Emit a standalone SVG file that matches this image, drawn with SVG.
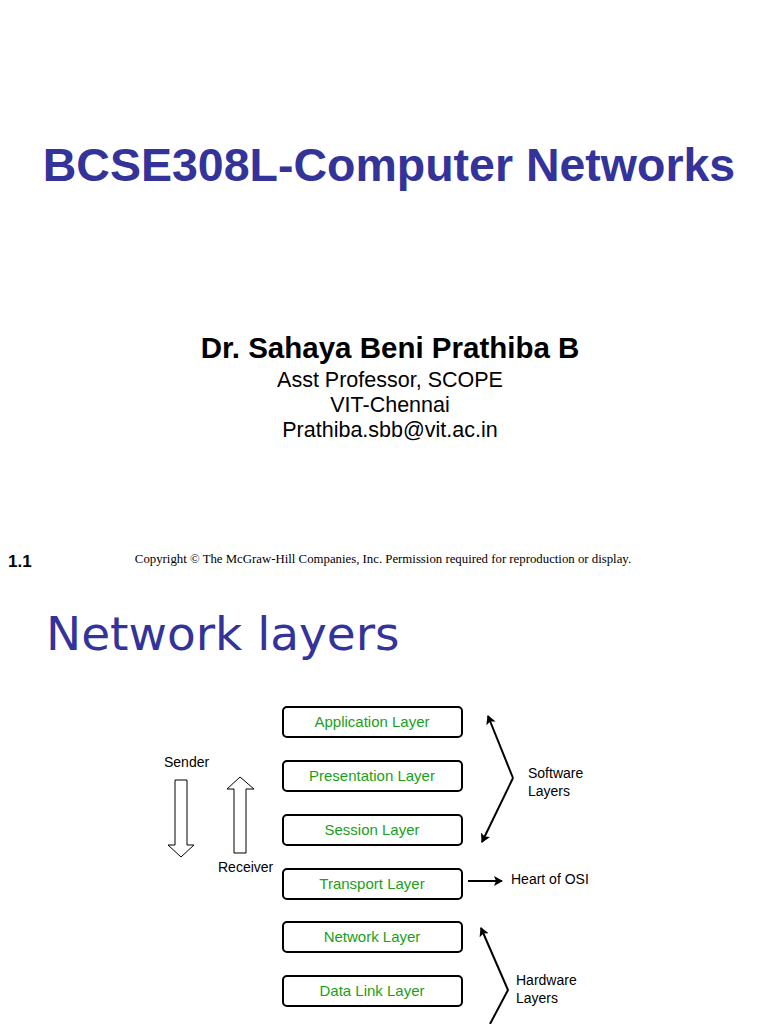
<svg xmlns="http://www.w3.org/2000/svg" width="768" height="1024" viewBox="0 0 768 1024">
<style>
.t{font-family:"Liberation Sans",Arial,sans-serif}
.box rect{fill:#fff;stroke:#000;stroke-width:2}
.box text{font-family:"Liberation Sans",Arial,sans-serif;font-size:15px;fill:#1aa01a;text-anchor:middle}
.lbl{font-family:"Liberation Sans",Arial,sans-serif;font-size:14px;fill:#000}
.c{fill:none;stroke:#000;stroke-width:2}
</style>
<defs><marker id="ah" markerWidth="10" markerHeight="10" refX="8" refY="5" orient="auto" markerUnits="userSpaceOnUse"><path d="M0,0 L9,5 L0,10 L2,5 Z" fill="#000"/></marker></defs>
<rect width="768" height="1024" fill="#fff"/>
<text class="t" x="389" y="181" font-size="46.5" font-weight="bold" fill="#333399" text-anchor="middle">BCSE308L-Computer Networks</text>
<text class="t" x="390" y="358" font-size="29.5" font-weight="bold" fill="#000" text-anchor="middle">Dr. Sahaya Beni Prathiba B</text>
<text class="t" x="390" y="387" font-size="21.5" fill="#000" text-anchor="middle">Asst Professor, SCOPE</text>
<text class="t" x="390" y="412" font-size="21.5" fill="#000" text-anchor="middle">VIT-Chennai</text>
<text class="t" x="390" y="437" font-size="21.5" fill="#000" text-anchor="middle">Prathiba.sbb@vit.ac.in</text>
<text class="t" x="8" y="567" font-size="17" font-weight="bold" fill="#000">1.1</text>
<text x="383" y="563" font-family="Liberation Serif,serif" font-size="12.8" fill="#000" text-anchor="middle">Copyright © The McGraw-Hill Companies, Inc. Permission required for reproduction or display.</text>
<text x="46" y="650" font-family="DejaVu Sans,sans-serif" font-size="47" fill="#333399">Network layers</text>
<g id="app" class="box"><rect x="283" y="707" width="179" height="30" rx="4"/><text x="372" y="727">Application Layer</text></g>
<g id="pres" class="box"><rect x="283" y="761" width="179" height="30" rx="4"/><text x="372" y="781">Presentation Layer</text></g>
<g id="sess" class="box"><rect x="283" y="815" width="179" height="30" rx="4"/><text x="372" y="835">Session Layer</text></g>
<g id="trans" class="box"><rect x="283" y="869" width="179" height="30" rx="4"/><text x="372" y="889">Transport Layer</text></g>
<g id="net" class="box"><rect x="283" y="922" width="179" height="30" rx="4"/><text x="372" y="942">Network Layer</text></g>
<g id="dl" class="box"><rect x="283" y="976" width="179" height="30" rx="4"/><text x="372" y="996">Data Link Layer</text></g>
<g id="sender"><text class="lbl" x="164" y="767" font-size="12">Sender</text>
<path d="M175,780 H187 V845 H194 L181,857 L168,845 H175 Z" fill="#fff" stroke="#000" stroke-width="1"/></g>
<g id="receiver"><text class="lbl" x="218" y="872" font-size="12">Receiver</text>
<path d="M234,853 H246 V789 H254 L240,777 L227,789 H234 Z" fill="#fff" stroke="#000" stroke-width="1"/></g>
<g id="connectors">
<path class="c" d="M513,778 L488,716" marker-end="url(#ah)"/>
<path class="c" d="M513,778 L482,842" marker-end="url(#ah)"/>
<path class="c" d="M468,881 L502,881" marker-end="url(#ah)"/>
<path class="c" d="M490,1024 L508,990 L481,928" marker-end="url(#ah)"/>
</g>
<text class="lbl" x="528" y="778">Software</text><text class="lbl" x="528" y="796">Layers</text>
<text class="lbl" x="511" y="884">Heart of OSI</text>
<text class="lbl" x="516" y="985">Hardware</text><text class="lbl" x="516" y="1003">Layers</text>
</svg>
